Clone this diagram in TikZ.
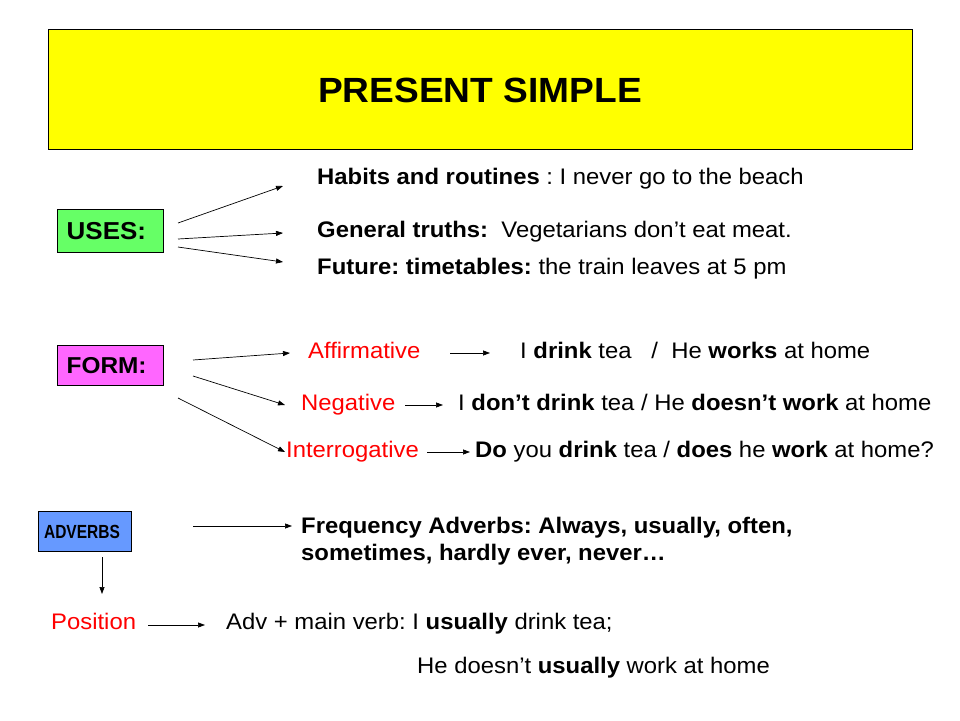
\documentclass[tikz,border=0pt]{standalone}
\usepackage{fontspec}
\setmainfont[FakeStretch=1.06]{Liberation Sans}
\usetikzlibrary{arrows.meta}
\definecolor{ttlyellow}{HTML}{FFFF00}
\definecolor{usesgreen}{HTML}{66FF66}
\definecolor{formpink}{HTML}{FF66FF}
\definecolor{advblue}{HTML}{6699FF}
\definecolor{lblred}{HTML}{FF0000}
\frenchspacing
\begin{document}
\begin{tikzpicture}[x=1pt,y=-1pt,
  txt/.style={anchor=base west,inner sep=0pt,font=\fontsize{22.5}{28}\selectfont},
  redtxt/.style={txt,text=lblred},
  box/.style={draw=black,line width=0.8pt,inner sep=0pt},
  arr/.style={-{Triangle[length=7pt,width=5pt]},line width=0.7pt}]
\useasboundingbox (0,0) rectangle (960,720);
\fill[white] (0,0) rectangle (960,720);
% title
\node[box,fill=ttlyellow,minimum width=864pt,minimum height=120pt] (title) at (480,89) {};
\node[anchor=base,inner sep=0pt,font=\fontsize{35}{40}\selectfont\bfseries] (ttltext) at (480,102.5) {PRESENT SIMPLE};
% USES
\node[box,fill=usesgreen,minimum width=106pt,minimum height=43pt] (uses) at (110,231) {};
\node[anchor=base west,inner sep=0pt,font=\fontsize{24.5}{28}\selectfont\bfseries] (usestext) at (66.5,239.5) {USES:};
\node[txt] (habits) at (317,184) {\textbf{Habits and routines} : I never go to the beach};
\node[txt] (general) at (317,237) {\textbf{General truths:}\ \ Vegetarians don’t eat meat.};
\node[txt] (future) at (317,274) {\textbf{Future: timetables:} the train leaves at 5 pm};
\coordinate (u1s) at (178,223); \coordinate (u1e) at (283,186);
\coordinate (u2s) at (178,239); \coordinate (u2e) at (283,233);
\coordinate (u3s) at (178,247); \coordinate (u3e) at (283,262);
\draw[arr] (u1s) -- (u1e);
\draw[arr] (u2s) -- (u2e);
\draw[arr] (u3s) -- (u3e);
% FORM
\node[box,fill=formpink,minimum width=106pt,minimum height=40pt] (form) at (110,365.5) {};
\node[anchor=base west,inner sep=0pt,font=\fontsize{23}{28}\selectfont\bfseries] (formtext) at (66.5,373) {FORM:};
\coordinate (f1s) at (193,360); \coordinate (f1e) at (290,353);
\coordinate (f2s) at (193,376); \coordinate (f2e) at (285,405);
\coordinate (f3s) at (178,398); \coordinate (f3e) at (285,452);
\draw[arr] (f1s) -- (f1e);
\draw[arr] (f2s) -- (f2e);
\draw[arr] (f3s) -- (f3e);
\node[redtxt] (aff) at (308,358) {Affirmative};
\node[txt] (affex) at (520,358) {I \textbf{drink} tea\ \ \ /\ \ He \textbf{works} at home};
\node[redtxt] (neg) at (301,410) {Negative};
\node[txt] (negex) at (458,410) {I \textbf{don’t drink} tea / He \textbf{doesn’t work} at home};
\node[redtxt] (int) at (286,457) {Interrogative};
\node[txt] (intex) at (475,457) {\textbf{Do} you \textbf{drink} tea / \textbf{does} he \textbf{work} at home?};
\coordinate (a1s) at (450,353); \coordinate (a1e) at (490,353);
\coordinate (a2s) at (405,405); \coordinate (a2e) at (443,405);
\coordinate (a3s) at (427,452); \coordinate (a3e) at (470,452);
\draw[arr] (a1s) -- (a1e);
\draw[arr] (a2s) -- (a2e);
\draw[arr] (a3s) -- (a3e);
% ADVERBS
\node[box,fill=advblue,minimum width=93pt,minimum height=40pt] (adv) at (85,531.5) {};
\node[anchor=base,inner sep=0pt,font=\fontsize{19}{22}\selectfont\bfseries] (advtext) at (82,538) {\scalebox{0.77}[1]{ADVERBS}};
\node[txt,font=\fontsize{22.5}{28}\selectfont\bfseries] (freq) at (301,533) {Frequency Adverbs: Always, usually, often,};
\node[txt,font=\fontsize{22.5}{28}\selectfont\bfseries] (freq2) at (301,560) {sometimes, hardly ever, never…};
\coordinate (b1s) at (193,526); \coordinate (b1e) at (292,526);
\draw[arr] (b1s) -- (b1e);
\coordinate (b2s) at (102,557); \coordinate (b2e) at (102,594);
\draw[arr] (b2s) -- (b2e);
\node[redtxt] (pos) at (51,629) {Position};
\coordinate (p1s) at (148,625); \coordinate (p1e) at (205,625);
\draw[arr] (p1s) -- (p1e);
\node[txt] (posex) at (226,629) {Adv + main verb: I \textbf{usually} drink tea;};
\node[txt] (posex2) at (417,673) {He doesn’t \textbf{usually} work at home};
\end{tikzpicture}
\end{document}
